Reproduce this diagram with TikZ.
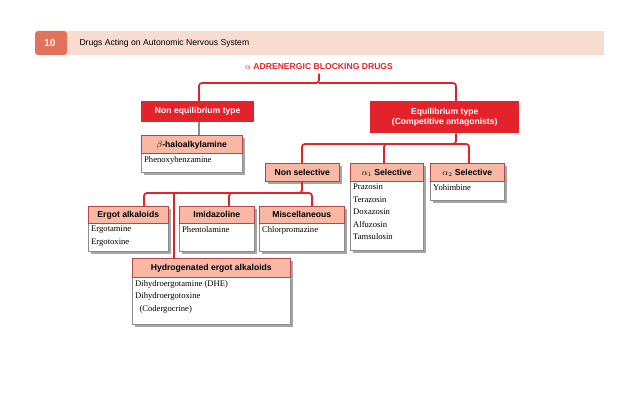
\documentclass[tikz,border=0pt]{standalone}
\usepackage{fontspec}
\setmainfont{Liberation Serif}
\setsansfont{Liberation Sans}
\usetikzlibrary{calc}
\definecolor{rd}{HTML}{E2232B}
\definecolor{salm}{HTML}{F8B8A4}
\definecolor{hbar}{HTML}{F9DCD0}
\definecolor{numb}{HTML}{E0735A}
\newcommand\dbox[8]{%
  \fill[black!35] (#1+2.5,#3+2.5) rectangle (#2+2.5,#5+2.5);
  \fill[white] (#1,#3) rectangle (#2,#5);
  \draw[black!45,line width=0.5pt] (#1,#3) rectangle (#2,#5);
  \node[hdr,minimum width=#2-#1,minimum height=#4-#3,anchor=north west] (#6) at (#1,#3) {#7};
  \node[body,anchor=north west] (#6b) at (#1+1,#4+1) {#8};
}
\begin{document}
\begin{tikzpicture}[x=1pt,y=-1pt,
  hdr/.style={draw=rd!70!black!80,line width=0.6pt,fill=salm,inner sep=2pt,font=\sffamily\bfseries\fontsize{8.6}{10}\selectfont,text=black,align=left,text depth=0pt},
  red/.style={fill=rd,text=white,inner sep=2pt,font=\sffamily\bfseries\fontsize{8.6}{10.5}\selectfont,align=center},
  body/.style={inner sep=2pt,font=\fontsize{8.6}{12.5}\selectfont,align=left},
  ln/.style={rd,line width=1.8pt,rounded corners=3pt},
  gl/.style={black!45,line width=1.8pt}]
\useasboundingbox (0,0) rectangle (638,420);
% header
\fill[hbar] (60,31) rectangle (604,55);
\fill[numb,rounded corners=3pt] (35,31) rectangle (67,55);
\node[text=white,font=\sffamily\bfseries\fontsize{10}{12}\selectfont] (num) at (50,43) {10};
\node[anchor=west,font=\sffamily\fontsize{8.6}{10}\selectfont] (htxt) at (76,43) {Drugs Acting on Autonomic Nervous System};
\node[text=rd,font=\sffamily\bfseries\fontsize{8.6}{10}\selectfont] (title) at (319,67) {$\alpha$ ADRENERGIC BLOCKING DRUGS};
% red boxes
\node[red,minimum width=113,minimum height=21,anchor=north west] (neq) at (141,101) {Non equilibrium type};
\node[red,minimum width=149,minimum height=32,anchor=north west] (eq) at (370,101) {Equilibrium type\\(Competitive antagonists)};
% connectors top
\coordinate (t1) at (319,83);
\draw[ln] (title.south) -- (t1) -| (199,101);
\draw[ln] (t1) -| (456,101);
\draw[gl] (199,122) -- (199,135);
% drug boxes
\dbox{141}{242}{135}{153}{172}{beta}{$\beta$-haloalkylamine}{Phenoxybenzamine}
\draw[ln] (eq.south -| 456,0) -- (456,144) coordinate (e1) -| (302,163);
\draw[ln] (e1) -| (384,163);
\draw[ln] (e1) -| (469,163);
\dbox{265}{339}{163}{181}{181}{ns}{Non selective}{}
\dbox{350}{423}{163}{181}{250}{a1}{$\alpha_1$ Selective}{Prazosin\\Terazosin\\Doxazosin\\Alfuzosin\\Tamsulosin}
\dbox{430}{504}{163}{181}{200}{a2}{$\alpha_2$ Selective}{Yohimbine}
% non selective branches
\draw[ln] (ns.south -| 302,0) -- (302,193) coordinate (n1) -| (144,206);
\draw[ln] (n1) -| (229,206);
\draw[ln] (n1) -| (312,206);
\draw[ln] (174,193) -- (174,258);
\dbox{88}{168}{206}{223}{251}{erg}{Ergot alkaloids}{Ergotamine\\Ergotoxine}
\dbox{179}{254}{206}{223}{251}{imi}{Imidazoline}{Phentolamine}
\dbox{259}{344}{206}{223}{251}{misc}{Miscellaneous}{Chlorpromazine}
\dbox{132}{290}{258}{277}{324}{hyd}{Hydrogenated ergot alkaloids}{Dihydroergotamine (DHE)\\Dihydroergotoxine\\\ \ (Codergocrine)}
\end{tikzpicture}
\end{document}
